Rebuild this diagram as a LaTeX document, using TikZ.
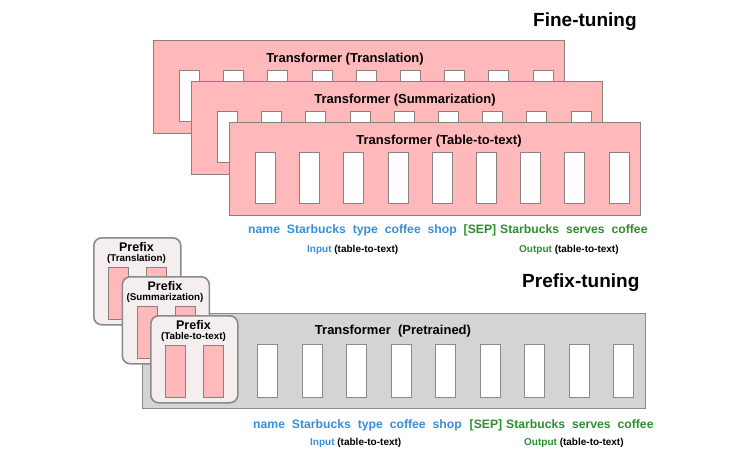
\documentclass[tikz,border=0pt]{standalone}
\usepackage{fontspec}
\setmainfont{Liberation Sans}
\definecolor{pinkfill}{HTML}{FFB9BB}
\definecolor{pinkedge}{HTML}{8C7F80}
\definecolor{grayfill}{HTML}{D4D4D4}
\definecolor{grayedge}{HTML}{8A8A8A}
\definecolor{prefill}{HTML}{F4EEEE}
\definecolor{tokblue}{HTML}{3A8ED8}
\definecolor{tokgreen}{HTML}{2E8F2E}
\begin{document}
\begin{tikzpicture}[x=1pt,y=-1pt,
  pinkbox/.style={draw=pinkedge, fill=pinkfill, line width=1.2pt, rectangle, anchor=north west,
    minimum width=411pt, minimum height=93pt, inner sep=0pt},
  graybox/.style={draw=grayedge, fill=grayfill, line width=1.2pt, rectangle, anchor=north west,
    minimum width=503pt, minimum height=95pt, inner sep=0pt},
  prefbox/.style={draw=grayedge, fill=prefill, line width=1.6pt, rectangle, rounded corners=8pt,
    anchor=north west, minimum width=87pt, minimum height=87pt, inner sep=0pt},
  cell/.style={draw=pinkedge, fill=white, line width=0.9pt, rectangle, anchor=north west,
    minimum width=20pt, minimum height=51pt, inner sep=0pt},
  graycell/.style={draw=grayedge, fill=white, line width=0.9pt, rectangle, anchor=north west,
    minimum width=20pt, minimum height=53pt, inner sep=0pt},
  prefcell/.style={draw=pinkedge, fill=pinkfill, line width=0.9pt, rectangle, anchor=north west,
    minimum width=20pt, minimum height=52pt, inner sep=0pt},
  boxtitle/.style={anchor=base, inner sep=0pt, font=\fontsize{13}{15}\selectfont\bfseries},
  preftitle/.style={anchor=base, inner sep=0pt, font=\fontsize{12.5}{15}\selectfont\bfseries},
  prefsub/.style={anchor=base, inner sep=0pt, font=\fontsize{9.8}{12}\selectfont\bfseries},
  bigtitle/.style={anchor=base west, inner sep=0pt, font=\fontsize{19}{22}\selectfont\bfseries},
  tokb/.style={anchor=base west, inner sep=0pt, text=tokblue, font=\fontsize{12.2}{14}\selectfont\bfseries},
  tokg/.style={anchor=base west, inner sep=0pt, text=tokgreen, font=\fontsize{12.2}{14}\selectfont\bfseries},
  iolabel/.style={anchor=base west, inner sep=0pt, font=\fontsize{10}{12}\selectfont\bfseries}]
\useasboundingbox (0,0) rectangle (754,460);

% ---------- Fine-tuning ----------
\node[bigtitle] (ftitle) at (533,26.5) {Fine-tuning};
\foreach \k/\nm/\tx/\tdx in {0/tr/Translation/192, 1/su/Summarization/214, 2/tt/Table-to-text/210} {
  \node[pinkbox] (ft\nm) at ({153+38*\k},{40+41*\k}) {};
  \node[boxtitle] (ft\nm-t) at ({153+38*\k+\tdx},{40+41*\k+22.5}) {Transformer (\tx)};
  \foreach \i in {0,...,8}
    \node[cell] (ft\nm-c\i) at ({153+38*\k+26+44.2*\i},{40+41*\k+30}) {};
}
% tokens (top)
\node[tokb] (a1) at (248,233.5) {name};
\node[tokb, xshift=6.5pt] (a2) at (a1.base east) {Starbucks};
\node[tokb, xshift=6.5pt] (a3) at (a2.base east) {type};
\node[tokb, xshift=6.5pt] (a4) at (a3.base east) {coffee};
\node[tokb, xshift=6.5pt] (a5) at (a4.base east) {shop};
\node[tokg, xshift=6.5pt] (a6) at (a5.base east) {[SEP]};
\node[tokg, xshift=3.5pt] (a7) at (a6.base east) {Starbucks};
\node[tokg, xshift=6.5pt] (a8) at (a7.base east) {serves};
\node[tokg, xshift=6.5pt] (a9) at (a8.base east) {coffee};
\node[iolabel] (ain) at (307,252.5) {\textcolor{tokblue}{Input} (table-to-text)};
\node[iolabel] (aout) at (519,252.5) {\textcolor{tokgreen}{Output} (table-to-text)};

% ---------- Prefix-tuning ----------
\node[bigtitle] (ptitle) at (522,287) {Prefix-tuning};
\node[graybox] (pt) at (142,313) {};
\node[boxtitle] (pt-t) at (393,334) {Transformer\ \ (Pretrained)};
\foreach \i in {0,...,8}
  \node[graycell] (pt-c\i) at ({257+44.5*\i},344) {};

\foreach \k/\nm/\tx in {0/tr/Translation, 1/su/Summarization, 2/tt/Table-to-text} {
  \node[prefbox] (pf\nm) at ({93+28.5*\k},{237+39*\k}) {};
  \node[preftitle] (pf\nm-t) at ({93+28.5*\k+43.5},{237+39*\k+14.8}) {Prefix};
  \node[prefsub] (pf\nm-s) at ({93+28.5*\k+43.5},{237+39*\k+24.8}) {(\tx)};
  \node[prefcell] (pf\nm-c1) at ({93+28.5*\k+15},{237+39*\k+29.5}) {};
  \node[prefcell] (pf\nm-c2) at ({93+28.5*\k+53},{237+39*\k+29.5}) {};
}
% tokens (bottom)
\node[tokb] (b1) at (253,428.5) {name};
\node[tokb, xshift=6.5pt] (b2) at (b1.base east) {Starbucks};
\node[tokb, xshift=6.5pt] (b3) at (b2.base east) {type};
\node[tokb, xshift=6.5pt] (b4) at (b3.base east) {coffee};
\node[tokb, xshift=6.5pt] (b5) at (b4.base east) {shop};
\node[tokg, xshift=7.5pt] (b6) at (b5.base east) {[SEP]};
\node[tokg, xshift=3.5pt] (b7) at (b6.base east) {Starbucks};
\node[tokg, xshift=6.5pt] (b8) at (b7.base east) {serves};
\node[tokg, xshift=6.5pt] (b9) at (b8.base east) {coffee};
\node[iolabel] (bin) at (310,445) {\textcolor{tokblue}{Input} (table-to-text)};
\node[iolabel] (bout) at (524,445) {\textcolor{tokgreen}{Output} (table-to-text)};
\end{tikzpicture}
\end{document}
